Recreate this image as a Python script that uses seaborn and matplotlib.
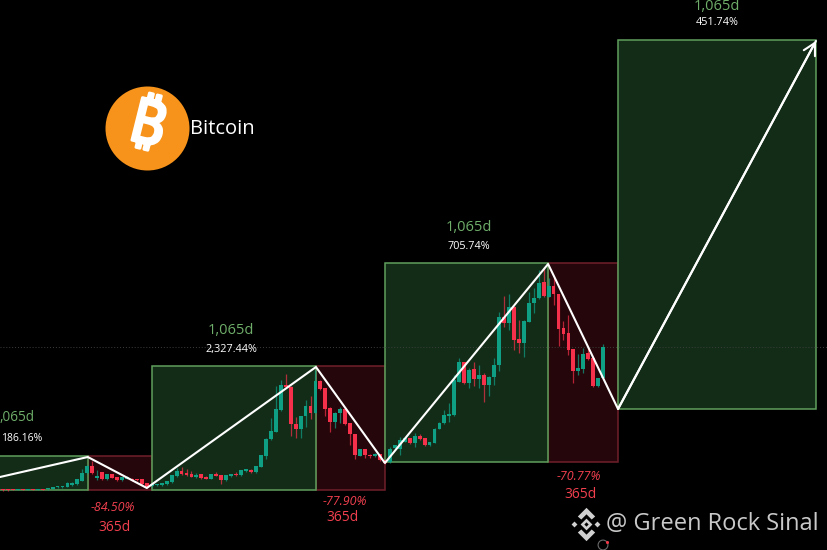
import matplotlib
matplotlib.use("Agg")
import matplotlib.pyplot as plt
import matplotlib.patheffects as pe
import seaborn as sns
import pandas as pd
from matplotlib.patches import Rectangle

# candle series (index = candle number, level = chart height)
opens = [60.5,60.5,61,60.5,61,60.5,61,60.5,61,61,61.3,62.7,63,63.3,64.7,66,69.3,76.7,84,72,77.7,70.7,75.7,72.7,70,71.3,71.3,70.7,70.7,66.7,64,
 65,65,65.7,68,74,79,77.3,76.3,73.3,75.7,73.3,71.3,76,75,70,74,76,75,79,80.3,78,83.3,94,110.7,118.3,140,165,163.3,126,121.3,134,144,137.3,169.3,161.7,142.3,128,136.7,141,126.7,116,94.3,101,95.3,93.7,95.7,
 90,88.3,101.7,100.7,108.3,112,107.3,114,112,105,107.3,121.3,126.7,134.3,135,168.3,187.7,167.3,181,171.3,175,165,172.7,185,232.7,226.7,243.3,211,207.3,228.3,247.3,251.7,267.7,253.3,264.3,256,221.7,216.7,200.7,179.3,181.3,196.7,191.7,164,172]
closes = [60,60,60.5,61,60.5,61,60.5,61,60.5,62,62.7,63.7,64,67.3,67.3,70.7,77.3,84,76.7,74,70.7,75.7,72.3,70,72.7,73,70,69.7,66,62.7,66,
 66,66.7,68.7,74.7,79,76.3,75.3,73.3,75.3,71.7,71.3,76,74.3,70,74.7,76,75,80,81,78.3,84,94.7,111.3,119,140.7,165,162.7,126,121.3,134,144.3,137.3,169.3,161,141.3,128,137.3,141,126,116,94.7,101,94.7,94,96.3,89.7,
 86.7,101,105,110,111.7,107.3,114,111,104.7,108,121.3,127.3,135,136,170,187.7,167.3,180,171.3,175,165,173.3,185.3,232.7,226.7,243.3,210,207.3,229,247.3,252.3,267.3,254,264.3,256,221,216,200,179.3,181.7,196,191,164,172,203.3]
highs = [61,61,61.5,61.5,61.5,61.5,61.5,61.5,61.5,62.5,63,64,64.5,68,68,71.5,80.7,85,89.3,80,78.5,76.5,76.5,73.5,73.5,74,72,71.5,71.5,67.5,67,
 66.5,67.2,69.2,75.2,81.7,82.7,81.3,79.3,77.3,76.2,73.8,76.5,78.3,75.5,75.2,76.5,78,80.5,81.5,80.8,84.5,95.2,111.8,131.7,164,170,176,163.8,133.3,134.5,150,154,180,169.8,162.2,142.8,137.8,143.3,143.3,127.2,116.5,101.5,101.5,95.8,96.8,96.2,
 90.5,103.3,105.5,113.3,112.2,112.5,116.7,116,112.5,108.5,121.8,127.8,140,146.7,175,191.7,188.3,181.7,188.3,184.7,176.7,173.8,191.7,238.3,254,256,244,230,230,258.3,261.7,280,283.3,271.7,271.7,256.5,229.3,235,201.2,196,201.7,202.7,192.2,172.5,206]
lows = [59.5,59.5,60,60,60,60,60,60,60,60.5,61,62.2,62.5,62.8,64.2,65.5,68.8,76.2,76,70,70.2,70.2,71.8,69.5,69.5,70.8,69.5,69.2,65.5,62.2,63.5,
 64.5,64.5,65.2,67.5,73.5,75,74,72.7,71.7,71.2,70.8,70.8,73.8,66,69.5,73.5,74.5,74.5,78.5,76.7,77.5,82.8,90.7,110.2,117.8,139.5,162.2,114,111.7,112,123.3,130.7,136.8,160.5,134,118.3,121.7,126.7,125.5,105,90.7,93.8,91.7,91.7,93.2,89.2,
 86.2,87.3,100.5,95,107.8,106,103.3,110,104.2,104.5,106.8,120.8,126.2,128.3,134.5,167.8,166,161.7,164,161.7,148.3,154,165,179.3,223.3,220,200,196.7,193.3,227.8,236.7,250.7,253.3,252.7,245,204,210,195,167.3,175,176.7,190.5,163.3,163.3,171.5]

# measured legs of the pattern
zig_x = [-0.6,17.1,29.0,63.1,77.0,109.9,124.0,163.9]
zig_y = [73,93,62,183,87,286,141,509]
# ranges: left, right, bottom, top
green_boxes = [(-2,17.1,60,94),(30.05,63.1,60,184),(77.0,109.9,88,287),(124.0,163.9,141,510)]
red_boxes = [(17.1,30.05,60,94),(63.1,77.0,60,184),(109.9,124.0,88,287)]

green_labels = [",065d","1,065d","1,065d","1,065d"]
gain_labels = ["186.16%","2,327.44%","705.74%","451.74%"]
loss_labels = ["-84.50%","-77.90%","-70.77%"]
loss_days = ["365d","365d","365d"]

sns.set_theme(style="dark", rc={"axes.facecolor":"#000000","figure.facecolor":"#000000"})
plt.rcParams["font.family"] = ["Open Sans","DejaVu Sans"]

W,H = 828,550
fig = plt.figure(figsize=(W/100,H/100),dpi=100)
ax = fig.add_axes([0,0,1,1])
ax.set_xlim(-0.6,166.33); ax.set_ylim(0,550)
ax.set_axis_off()

def lab(px,py,s,color,size,ha="center",**kw):
    return fig.text(px/W,1-(py+0.8)/H,s,color=color,fontsize=size,ha=ha,va="center",**kw)

GF,GE,RF,RE = "#132c18","#5f9f5c","#25060a","#70202a"
for l,r,b,t in red_boxes:
    ax.add_patch(Rectangle((l,b),r-l,t-b,fc=RF,ec=RE,lw=1.1,zorder=1))
for l,r,b,t in green_boxes:
    ax.add_patch(Rectangle((l,b),r-l,t-b,fc=GF,ec=GE,lw=1.1,zorder=1.1))

ax.axhline(203,color="#3a3f3a",lw=0.7,ls=(0,(1,2)),zorder=1.5)

df = pd.DataFrame({"o":opens,"c":closes,"h":highs,"l":lows})
df["k"] = range(len(df))
df["col"] = ["#0f9f85" if c>=o else "#f5304a" for o,c in zip(df.o,df.c)]
ax.vlines(df.k,df.l,df.h,colors=df.col,lw=0.9,alpha=0.7,zorder=2)
ax.bar(df.k,(df.c-df.o).abs().clip(lower=1.0),bottom=df[["o","c"]].min(axis=1),width=0.78,color=df.col,lw=0,zorder=2.2)

zz = pd.DataFrame({"x":zig_x,"y":zig_y})
sns.lineplot(data=zz,x="x",y="y",color="white",lw=1.5,estimator=None,sort=False,ax=ax,zorder=3,legend=False)
ax.annotate("",xy=(zig_x[-1],zig_y[-1]),xytext=(zig_x[-2],zig_y[-2]),
            arrowprops=dict(arrowstyle="->,head_length=0.7,head_width=0.38",color="white",lw=1.5,shrinkA=0,shrinkB=0),zorder=3)
ax.set_xlabel(""); ax.set_ylabel(""); ax.set_xlim(-0.6,166.33); ax.set_ylim(0,550)

TG,TR = "#6fae6a","#f2404f"
lab(35,417,green_labels[0],TG,9.8,ha="right")
lab(42,438,gain_labels[0],"white",7.5,ha="right")
lab(231,330,green_labels[1],TG,10.5)
lab(231,349,gain_labels[1],"white",7.8)
lab(469,227,green_labels[2],TG,10.5)
lab(469,246,gain_labels[2],"white",7.8)
lab(717,6,green_labels[3],TG,10.5)
lab(717,22,gain_labels[3],"white",7.8)
lab(113,507,loss_labels[0],TR,9,style="italic")
lab(115,527,loss_days[0],TR,10)
lab(345,501,loss_labels[1],TR,9,style="italic")
lab(343,517,loss_days[1],TR,10)
lab(579,476,loss_labels[2],TR,9,style="italic")
lab(581,494,loss_days[2],TR,10)

# logo
ax.scatter([147/W],[1-128/H],s=(84*0.72)**2,c="#f7931a",linewidths=0,transform=fig.transFigure,zorder=4,clip_on=False)
lab(147,127,"\u20bf","white",44,family=["Noto Sans","Inter","Roboto","Lato","DejaVu Sans"],fontweight="bold",rotation=-14,zorder=5,
    path_effects=[pe.withStroke(linewidth=2.2,foreground="white")])
lab(190,128,"Bitcoin","white",14.5,ha="left",zorder=5)

# watermark
lab(606,523,"@ Green Rock Sinal","#c9c9c9",17,ha="left")
bx,by = 586,524
chev_up = [(-1,0),(0,1),(1,0),(0.6,-0.35),(0,0.25),(-0.6,-0.35)]
chev_dn = [(x,-y) for x,y in chev_up]
ax.scatter([bx/W],[1-by/H],s=6**2,marker="D",c="#d0d0d0",linewidths=0,transform=fig.transFigure,zorder=5,clip_on=False)
ax.scatter([bx/W],[1-by/H],s=2.2**2,marker="D",c="black",linewidths=0,transform=fig.transFigure,zorder=6)
for x,y in [(bx-11.5,by),(bx+11.5,by)]:
    ax.scatter([x/W],[1-y/H],s=3**2,marker="D",c="#d0d0d0",linewidths=0,transform=fig.transFigure,zorder=5,clip_on=False)
ax.scatter([bx/W],[1-(by-8)/H],s=12.5**2,marker=chev_up,c="#d0d0d0",linewidths=0,transform=fig.transFigure,zorder=5,clip_on=False)
ax.scatter([bx/W],[1-(by+8)/H],s=12.5**2,marker=chev_dn,c="#d0d0d0",linewidths=0,transform=fig.transFigure,zorder=5,clip_on=False)
ax.scatter([603/W],[1-545/H],s=50,marker="o",facecolors="none",edgecolors="#6a6a6a",linewidths=0.8,transform=fig.transFigure,zorder=5,clip_on=False)
ax.scatter([606.5/W],[1-542/H],s=5,c="#f23645",linewidths=0,transform=fig.transFigure,zorder=6,clip_on=False)

fig.savefig("out.png",dpi=100,facecolor="black")
